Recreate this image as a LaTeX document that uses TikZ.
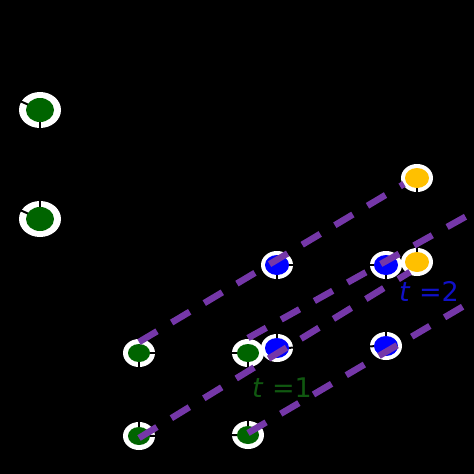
\documentclass[tikz,border=0pt]{standalone}
\usepackage{fontspec}
\setmainfont{DejaVu Sans}
\usetikzlibrary{shapes.geometric}
\definecolor{dotgreen}{RGB}{0,100,0}
\definecolor{dotblue}{RGB}{0,0,255}
\definecolor{dotyellow}{RGB}{255,192,0}
\definecolor{lblgreen}{RGB}{16,88,16}
\definecolor{lblblue}{RGB}{16,16,200}
\definecolor{purp}{RGB}{117,55,168}
\tikzset{
  ringbig/.style={ellipse,fill=white,minimum width=42pt,minimum height=36pt,inner sep=0pt},
  ringsmall/.style={ellipse,fill=white,minimum width=32pt,minimum height=28pt,inner sep=0pt},
  fillbig/.style={ellipse,fill=dotgreen,minimum width=28pt,minimum height=24pt,inner sep=0pt},
  fillsmall/.style={ellipse,minimum width=22pt,minimum height=18pt,inner sep=0pt},
  filllarge/.style={ellipse,minimum width=24pt,minimum height=20pt,inner sep=0pt},
  lattice/.style={black,line width=2pt},
  timeline/.style={purp,line width=6.5pt,dash pattern=on 21pt off 17pt},
  lbl/.style={font=\fontsize{27}{27}\selectfont,inner sep=0pt}
}
\begin{document}
\begin{tikzpicture}[x=1pt,y=-1pt]
\fill[black] (0,0) rectangle (474,474);
\useasboundingbox (0,0) rectangle (474,474);
% white rings
\node[ringbig] (G1r) at (40,110) {};
\node[ringbig] (G2r) at (40,219) {};
\node[ringsmall] (g1r) at (139,353) {};
\node[ringsmall] (g2r) at (248,353) {};
\node[ringsmall] (g3r) at (139,436) {};
\node[ringsmall] (g4r) at (248,435) {};
\node[ringsmall] (b1r) at (277,265) {};
\node[ringsmall] (b2r) at (386,265) {};
\node[ringsmall] (b3r) at (277,348) {};
\node[ringsmall] (b4r) at (386,346) {};
\node[ringsmall] (y1r) at (417,178) {};
\node[ringsmall] (y2r) at (417,262) {};
% black lattice lines (notches)
\coordinate (Gl1) at (0,92);
\coordinate (Gl2) at (0,201);
\draw[lattice] (G1r.center) -- (G2r.center);
\draw[lattice] (G1r.center) -- (Gl1);
\draw[lattice] (G2r.center) -- (Gl2);
\draw[lattice] (g1r.center) -- (g3r.center);
\draw[lattice] (g2r.center) -- (g4r.center);
\draw[lattice] (g1r.center) -- (g2r.center);
\draw[lattice] (g3r.center) -- (g4r.center);
\draw[lattice] (b1r.center) -- (b3r.center);
\draw[lattice] (b2r.center) -- (b4r.center);
\draw[lattice] (b1r.center) -- (b2r.center);
\draw[lattice] (b3r.center) -- (b4r.center);
\draw[lattice] (y1r.center) -- (y2r.center);
% coloured fills
\node[fillbig] (G1) at (40,110) {};
\node[fillbig] (G2) at (40,219) {};
\node[fillsmall,fill=dotgreen] (g1) at (139,353) {};
\node[fillsmall,fill=dotgreen] (g2) at (248,353) {};
\node[fillsmall,fill=dotgreen] (g3) at (139,436) {};
\node[fillsmall,fill=dotgreen] (g4) at (248,435) {};
\node[filllarge,fill=dotblue] (b1) at (277,265) {};
\node[filllarge,fill=dotblue] (b2) at (386,265) {};
\node[filllarge,fill=dotblue] (b3) at (277,348) {};
\node[filllarge,fill=dotblue] (b4) at (386,346) {};
\node[filllarge,fill=dotyellow] (y1) at (417,178) {};
\node[filllarge,fill=dotyellow] (y2) at (417,262) {};
% purple dashed time lines
\coordinate (A0) at (139,342);
\coordinate (A1) at (404,184);
\coordinate (B0) at (139,438);
\coordinate (B1) at (410,272);
\coordinate (C0) at (248,338);
\coordinate (C1) at (474,212);
\coordinate (E0) at (248,433);
\coordinate (E1) at (474,300);
\draw[timeline] (A0) -- (A1);
\draw[timeline] (B0) -- (B1);
\draw[timeline] (C0) -- (C1);
\draw[timeline] (E0) -- (E1);
% labels
\node[lbl,text=lblgreen,anchor=base] (t1) at (282,397) {\textit{t} =1};
\node[lbl,text=lblblue,anchor=base] (t2) at (429,301) {\textit{t} =2};
\end{tikzpicture}
\end{document}
